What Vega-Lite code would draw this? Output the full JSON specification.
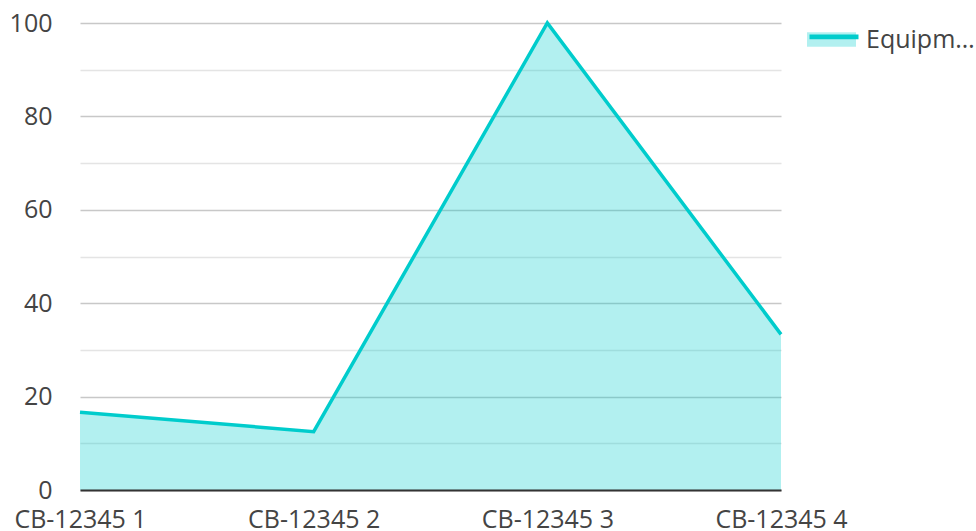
{
  "$schema": "https://vega.github.io/schema/vega-lite/v6.json",
  "width": 701,
  "height": 467,
  "autosize": {"type": "none"},
  "padding": {"left": 80, "top": 23, "right": 195, "bottom": 41},
  "background": "white",
  "config": {"view": {"stroke": null}, "font": "Open Sans"},
  "data": {"values": [
    {"label": "CB-12345 1", "value": 16.67, "series": "Equipment"},
    {"label": "CB-12345 2", "value": 12.5, "series": "Equipment"},
    {"label": "CB-12345 3", "value": 100, "series": "Equipment"},
    {"label": "CB-12345 4", "value": 33.33, "series": "Equipment"}
  ]},
  "encoding": {
    "x": {"field": "label", "type": "ordinal", "sort": null,
      "scale": {"type": "point", "padding": 0},
      "axis": {"title": null, "labelAngle": 0, "labelFontSize": 25, "labelColor": "#444444",
        "domainColor": "#333333", "domainWidth": 2, "ticks": false, "labelPadding": 17, "grid": false, "zindex": 1}},
    "y": {"field": "value", "type": "quantitative",
      "scale": {"domain": [0, 100], "nice": false},
      "axis": {"title": null, "values": [0, 10, 20, 30, 40, 50, 60, 70, 80, 90, 100],
        "labelExpr": "datum.value % 20 === 0 ? datum.label : ''",
        "labelFontSize": 25, "labelColor": "#444444", "domain": false, "ticks": false, "labelPadding": 28,
        "gridColor": {"condition": {"test": "datum.value % 20 === 0", "value": "#c8c8c8"}, "value": "#e4e4e4"},
        "gridWidth": 1.5, "zindex": 0}}
  },
  "layer": [
    {"mark": {"type": "area", "fillOpacity": 0.3},
     "encoding": {"fill": {"field": "series", "type": "nominal",
       "scale": {"range": ["#00cccc"]},
       "legend": {"title": null, "orient": "none", "legendX": 727, "legendY": -8,
         "symbolType": "M-1,-0.3H1V0.3H-1Z", "symbolSize": 2401, "symbolStrokeWidth": 0,
         "labelFontSize": 25, "labelColor": "#444444", "labelLimit": 112, "labelOffset": 10,
         "encode": {"symbols": {"update": {"fillOpacity": {"value": 0.3}, "opacity": {"value": 1}}}}}}}},
    {"mark": {"type": "line", "strokeWidth": 3.5},
     "encoding": {"stroke": {"field": "series", "type": "nominal", "scale": {"range": ["#00cccc"]},
       "legend": {"title": null, "orient": "none", "legendX": 727, "legendY": -8,
         "symbolType": "M-1,-0.21H1", "symbolSize": 2401, "symbolStrokeWidth": 4.7, "symbolFillColor": "transparent",
         "labelFontSize": 25, "labelColor": "#444444", "labelLimit": 112, "labelOffset": 10,
         "labelExpr": "''"}}}}
  ]
}
